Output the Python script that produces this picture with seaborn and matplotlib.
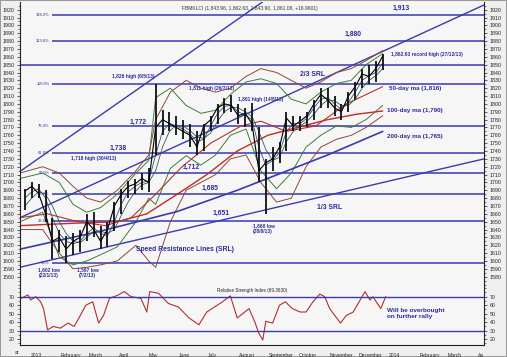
import pandas as pd
import matplotlib
matplotlib.use("Agg")
import matplotlib.pyplot as plt
import matplotlib.dates as mdates
import matplotlib.transforms as mtransforms
import seaborn as sns

sns.set_theme(style="white")
plt.rcParams["font.family"] = ["Liberation Sans", "DejaVu Sans"]

# ---- weekly price bars ----
week_dates = ["2012-12-28", "2013-01-04", "2013-01-11", "2013-01-18", "2013-01-25", "2013-02-01",
              "2013-02-08", "2013-02-15", "2013-02-22", "2013-03-01", "2013-03-08", "2013-03-15",
              "2013-03-22", "2013-03-29", "2013-04-05", "2013-04-12", "2013-04-19", "2013-04-26",
              "2013-05-03", "2013-05-10", "2013-05-17", "2013-05-24", "2013-05-31", "2013-06-07",
              "2013-06-14", "2013-06-21", "2013-06-28", "2013-07-05", "2013-07-12", "2013-07-19",
              "2013-07-26", "2013-08-02", "2013-08-09", "2013-08-16", "2013-08-23", "2013-08-30",
              "2013-09-06", "2013-09-13", "2013-09-20", "2013-09-27", "2013-10-04", "2013-10-11",
              "2013-10-18", "2013-10-25", "2013-11-01", "2013-11-08", "2013-11-15", "2013-11-22",
              "2013-11-29", "2013-12-06", "2013-12-13", "2013-12-20", "2013-12-27"]
week_low = [1665, 1680, 1680, 1650, 1602, 1612, 1597, 1608, 1612, 1625, 1630, 1615, 1618, 1638,
            1660, 1680, 1685, 1690, 1688, 1735, 1760, 1765, 1760, 1755, 1745, 1735, 1740, 1765,
            1775, 1788, 1790, 1775, 1770, 1765, 1700, 1660, 1715, 1725, 1740, 1765, 1765, 1770,
            1780, 1795, 1795, 1785, 1780, 1790, 1805, 1820, 1825, 1828, 1843]
week_high = [1692, 1700, 1698, 1690, 1655, 1640, 1632, 1635, 1640, 1660, 1662, 1645, 1650, 1675,
             1692, 1702, 1705, 1712, 1718, 1826, 1792, 1790, 1785, 1780, 1775, 1765, 1775, 1785,
             1800, 1808, 1811, 1800, 1795, 1801, 1770, 1730, 1745, 1752, 1790, 1785, 1785, 1790,
             1805, 1820, 1820, 1810, 1800, 1815, 1828, 1845, 1850, 1855, 1863]
week_close = [1689, 1695, 1686, 1660, 1625, 1630, 1615, 1625, 1630, 1650, 1640, 1625, 1640, 1670,
              1685, 1695, 1698, 1705, 1700, 1770, 1780, 1775, 1770, 1765, 1760, 1745, 1772, 1780,
              1795, 1800, 1798, 1785, 1788, 1775, 1715, 1725, 1730, 1745, 1782, 1772, 1778, 1785,
              1800, 1812, 1805, 1795, 1790, 1810, 1822, 1838, 1835, 1845, 1861]

# short moving-average ribbon
ribbon_fast = [1680, 1688, 1692, 1680, 1655, 1635, 1625, 1622, 1625, 1635, 1642, 1635, 1632, 1650,
               1672, 1688, 1695, 1700, 1702, 1735, 1765, 1775, 1772, 1768, 1762, 1752, 1755, 1772,
               1788, 1797, 1798, 1790, 1786, 1780, 1745, 1722, 1728, 1738, 1765, 1775, 1775, 1782,
               1795, 1806, 1808, 1800, 1793, 1802, 1815, 1830, 1836, 1840, 1852]
ribbon_slow = [1670, 1680, 1688, 1685, 1670, 1650, 1635, 1625, 1623, 1630, 1638, 1638, 1635, 1640,
               1658, 1675, 1688, 1697, 1700, 1715, 1745, 1765, 1773, 1772, 1766, 1758, 1756, 1763,
               1778, 1790, 1796, 1795, 1790, 1784, 1765, 1742, 1728, 1732, 1752, 1765, 1772, 1778,
               1787, 1798, 1805, 1804, 1798, 1798, 1806, 1820, 1830, 1836, 1845]

# longer moving averages
ma50_dates = ["2012-12-23", "2013-01-20", "2013-02-20", "2013-03-20", "2013-04-15", "2013-05-10",
              "2013-06-05", "2013-07-05", "2013-08-05", "2013-08-25", "2013-09-20", "2013-10-20",
              "2013-11-20", "2013-12-27"]
ma50 = [1655, 1660, 1650, 1645, 1655, 1685, 1719, 1750, 1772, 1778, 1765, 1772, 1800, 1822]
ma100_dates = ["2012-12-23", "2013-02-15", "2013-04-01", "2013-05-01", "2013-06-01", "2013-07-01",
               "2013-08-01", "2013-09-01", "2013-10-01", "2013-11-01", "2013-12-01", "2013-12-27"]
ma100 = [1645, 1648, 1650, 1660, 1685, 1710, 1740, 1760, 1770, 1780, 1787, 1791]
ma200_dates = ["2012-12-23", "2013-03-15", "2013-06-01", "2013-08-01", "2013-09-15", "2013-11-01",
               "2013-12-27"]
ma200 = [1615, 1638, 1663, 1690, 1712, 1735, 1765]

# envelopes
band_dates = ["2012-12-23", "2013-01-15", "2013-02-01", "2013-02-15", "2013-03-01", "2013-03-15",
              "2013-04-01", "2013-04-20", "2013-05-03", "2013-05-10", "2013-05-25", "2013-06-10",
              "2013-06-25", "2013-07-10", "2013-07-25", "2013-08-10", "2013-08-25", "2013-09-10",
              "2013-09-25", "2013-10-10", "2013-10-25", "2013-11-10", "2013-11-25", "2013-12-10",
              "2013-12-27"]
green_upper = [1705, 1712, 1700, 1672, 1662, 1668, 1685, 1712, 1728, 1808, 1820, 1798, 1788, 1792,
               1812, 1828, 1832, 1826, 1806, 1800, 1815, 1826, 1830, 1850, 1864]
green_lower = [1650, 1662, 1605, 1595, 1600, 1608, 1618, 1650, 1680, 1672, 1718, 1734, 1722, 1735,
               1760, 1768, 1715, 1692, 1712, 1745, 1760, 1772, 1770, 1780, 1798]
brown_upper = [1712, 1720, 1712, 1695, 1680, 1675, 1690, 1715, 1735, 1780, 1815, 1830, 1820, 1815,
               1820, 1835, 1845, 1840, 1830, 1820, 1828, 1840, 1845, 1855, 1868]
brown_lower = [1640, 1640, 1610, 1590, 1592, 1595, 1600, 1620, 1600, 1592, 1650, 1690, 1700, 1710,
               1730, 1735, 1700, 1675, 1680, 1720, 1745, 1755, 1760, 1770, 1785]

# Fibonacci levels and speed resistance lines
fib_pct = ["0.0%", "23.6%", "38.2%", "50.0%", "61.8%", "76.4%", "100.0%", "123.6%", "138.2%"]
fib_levels = [1597, 1651, 1685, 1712, 1738, 1772, 1826, 1880, 1913]
extra_level = [1850]
srl_names = ["steep", "2/3 SRL", "1/3 SRL"]
srl_start = [1714, 1655, 1592]
srl_end = [2127, 1926, 1730]

# RSI
rsi_dates = ["2012-12-24", "2012-12-31", "2013-01-03", "2013-01-08", "2013-01-13", "2013-01-16",
             "2013-01-20", "2013-01-26", "2013-02-02", "2013-02-10", "2013-02-16", "2013-02-21",
             "2013-02-28", "2013-03-07", "2013-03-13", "2013-03-18", "2013-03-24", "2013-04-02",
             "2013-04-08", "2013-04-15", "2013-04-25", "2013-05-01", "2013-05-04", "2013-05-13",
             "2013-05-23", "2013-06-02", "2013-06-13", "2013-06-23", "2013-07-01", "2013-07-09",
             "2013-07-17", "2013-07-25", "2013-08-01", "2013-08-13", "2013-08-19", "2013-08-23",
             "2013-08-27", "2013-08-30", "2013-09-06", "2013-09-13", "2013-09-19", "2013-09-26",
             "2013-10-04", "2013-10-10", "2013-10-17", "2013-10-24", "2013-10-29", "2013-11-03",
             "2013-11-14", "2013-11-20", "2013-11-27", "2013-12-04", "2013-12-09", "2013-12-14",
             "2013-12-17", "2013-12-25", "2013-12-30"]
rsi_values = [68, 72, 66, 70, 64, 56, 31, 35, 33, 39, 35, 45, 60, 64, 39, 48, 68, 72, 76, 70,
              68, 52, 76, 74, 62, 58, 45, 37, 52, 58, 64, 71, 45, 56, 40, 27, 19, 41, 39, 60,
              64, 56, 52, 52, 64, 73, 70, 56, 39, 48, 52, 66, 76, 66, 70, 56, 70]
rsi_levels = [30, 70]

month_ticks = ["2013-01-01", "2013-02-01", "2013-03-01", "2013-04-01", "2013-05-01", "2013-06-01",
               "2013-07-01", "2013-08-01", "2013-09-01", "2013-10-01", "2013-11-01", "2013-12-01",
               "2014-01-01", "2014-02-01", "2014-03-01", "2014-04-01"]
month_labels = ["2013", "February", "March", "April", "May", "June", "July", "August", "September",
                "October", "November", "December", "2014", "February", "March", "Ap"]

x_start, x_end = "2012-12-23", "2014-04-09"
BLUE = "#3a3ab0"
TXT = "#2b2b9c"

def d(s):
    return mdates.date2num(pd.Timestamp(s))

fig = plt.figure(figsize=(5.07, 3.57), dpi=100, facecolor="#efefef")
fig.patch.set_edgecolor("#9a9a9a")
fig.patch.set_linewidth(1.2)
ax = fig.add_axes([0.0394, 0.196, 0.9152, 0.7984], facecolor="#f6f6f6")
ax2 = fig.add_axes([0.0394, 0.0336, 0.9152, 0.1625], facecolor="#f6f6f6", sharex=ax)

# horizontal levels
ax.hlines(fib_levels, d("2013-01-25"), d(x_end), color=BLUE, lw=1.1, zorder=2)
ax.hlines(extra_level, d(x_start), d(x_end), color=BLUE, lw=1.1, zorder=2)
for lvl, pct in zip(fib_levels, fib_pct):
    ax.text(d("2013-01-22"), lvl, pct, ha="right", va="center", fontsize=2.9, color=TXT)

# speed resistance lines
for s, e in zip(srl_start, srl_end):
    ax.plot([d(x_start), d(x_end)], [s, e], color=BLUE, lw=1.0, zorder=2)

# envelopes and moving averages
bands = pd.DataFrame({"date": pd.to_datetime(band_dates), "gu": green_upper, "gl": green_lower,
                      "bu": brown_upper, "bl": brown_lower})
for col, c in [("gu", "#3f7d3a"), ("gl", "#3f7d3a"), ("bu", "#8b4a3c"), ("bl", "#8b4a3c")]:
    sns.lineplot(data=bands, x="date", y=col, ax=ax, color=c, lw=0.7, legend=False)

sns.lineplot(x=pd.to_datetime(ma200_dates), y=ma200, ax=ax, color=BLUE, lw=1.2)
sns.lineplot(x=pd.to_datetime(ma100_dates), y=ma100, ax=ax, color="#c62a22", lw=1.0)
sns.lineplot(x=pd.to_datetime(ma50_dates), y=ma50, ax=ax, color="#b8322a", lw=0.8)

px = pd.DataFrame({"date": pd.to_datetime(week_dates), "low": week_low, "high": week_high,
                   "close": week_close, "fast": ribbon_fast, "slow": ribbon_slow})
sns.lineplot(data=px, x="date", y="slow", ax=ax, color="#2f5d4a", lw=0.6)
sns.lineplot(data=px, x="date", y="fast", ax=ax, color="#35507a", lw=0.6)
ax.vlines(px["date"], px["low"], px["high"], color="#111111", lw=1.3, zorder=4)
sns.lineplot(data=px, x="date", y="close", ax=ax, color="black", lw=0.8, zorder=4)

# annotations
big = [("1,913", "2014-01-15", 1922, "center"), ("1,880", "2013-11-27", 1888, "center"),
       ("2/3 SRL", "2013-10-17", 1837, "center"), ("1,772", "2013-05-01", 1777, "right"),
       ("1,738", "2013-04-02", 1744, "center"), ("1,712", "2013-06-15", 1719, "center"),
       ("1,685", "2013-07-04", 1693, "center"), ("1,651", "2013-07-16", 1661, "center"),
       ("1/3 SRL", "2013-11-03", 1668, "center"),
       ("Speed Resistance Lines (SRL)", "2013-06-09", 1614, "center")]
for t, x, y, ha in big:
    ax.text(d(x), y, t, ha=ha, va="center", fontsize=4.9, fontweight="bold", color=TXT, zorder=6)

mid = [("50-day ma (1,816)", "2014-01-02", 1820), ("100-day ma (1,790)", "2013-12-31", 1792),
       ("200-day ma (1,765)", "2013-12-31", 1759)]
for t, x, y in mid:
    ax.text(d(x), y, t, ha="left", va="center", fontsize=4.5, fontweight="bold", color=TXT)

small = [("1,862.63 record high (27/12/13)", "2014-01-04", 1863, "left"),
         ("1,826 high (6/5/13)", "2013-04-17", 1835, "center"),
         ("1,811 high (26/7/13)", "2013-07-06", 1820, "center"),
         ("1,801 high (14/8/13)", "2013-08-25", 1806, "center"),
         ("1,718 high (30/4/13)", "2013-03-08", 1730, "center"),
         ("1,660 low\n(28/8/13)", "2013-08-17", 1641, "left"),
         ("1,602 low\n(22/1/13)", "2013-01-21", 1585, "center"),
         ("1,597 low\n(7/2/13)", "2013-03-02", 1585, "center")]
for t, x, y, ha in small:
    ax.text(d(x), y, t, ha=ha, va="center", fontsize=3.5, fontweight="bold", color=TXT,
            linespacing=1.1, zorder=6)

ax.text(d("2013-06-06"), 1922, "FBMKLCI (1,843.96, 1,862.63, 1,843.90, 1,861.06, +16.9601)",
        ha="left", va="center", fontsize=3.6, color="#333333")

# RSI panel
sns.lineplot(x=pd.to_datetime(rsi_dates), y=rsi_values, ax=ax2, color="#b03030", lw=0.8)
ax2.hlines(rsi_levels, d(x_start), d(x_end), color=BLUE, lw=1.0)
ax2.text(d("2013-08-16"), 76.7, "Relative Strength Index (69.3630)", ha="center", va="center",
         fontsize=3.3, color="#222222")
ax2.text(d("2013-12-31"), 50, "Will be overbought\non further rally", ha="left", va="center",
         fontsize=4.6, fontweight="bold", color=TXT, linespacing=1.2)

# axes styling
ax.set_xlim(d(x_start), d(x_end))
ax.set_ylim(1566.8, 1929.8)
ax2.set_ylim(13.2, 81.4)
for a in (ax, ax2):
    a.set_xlabel("")
    a.set_ylabel("")
    for sp in a.spines.values():
        sp.set_color("#222222")
        sp.set_linewidth(0.8)
ax.spines["bottom"].set_visible(False)
ax.spines["top"].set_visible(False)
ax2.spines["top"].set_visible(False)

ax.set_yticks(range(1580, 1921, 10))
ax.set_yticks(range(1570, 1926, 5), minor=True)
ax2.set_yticks(range(20, 71, 10))
ax2.set_yticks(range(15, 81, 5), minor=True)
for a in (ax, ax2):
    a.tick_params(axis="y", which="both", left=True, right=True, labelleft=True, labelright=True,
                  direction="out", labelsize=3.8, pad=1.5, colors="#222222")
    a.tick_params(axis="y", which="major", length=2.5, width=0.5)
    a.tick_params(axis="y", which="minor", length=1.2, width=0.4)
ax.tick_params(axis="x", which="both", bottom=False, labelbottom=False)

ax2.set_xticks([d(m) for m in month_ticks])
ax2.set_xticklabels(month_labels)
ax2.xaxis.set_minor_locator(mdates.WeekdayLocator(byweekday=mdates.MO))
ax2.tick_params(axis="x", which="major", direction="out", length=5, width=0.6, labelsize=3.6,
                pad=1.0, colors="#222222")
ax2.tick_params(axis="x", which="minor", direction="in", length=1.5, width=0.4)
shift = mtransforms.ScaledTranslation(1.5 / 100, 0, fig.dpi_scale_trans)
for lab in ax2.get_xticklabels():
    lab.set_horizontalalignment("left")
    lab.set_transform(lab.get_transform() + shift)
fig.text(15 / 507, 1 - 352 / 357, "ar", fontsize=3.6, va="center", ha="left", color="#222222")

fig.savefig("out.png", dpi=100, facecolor=fig.get_facecolor(), edgecolor=fig.patch.get_edgecolor())
